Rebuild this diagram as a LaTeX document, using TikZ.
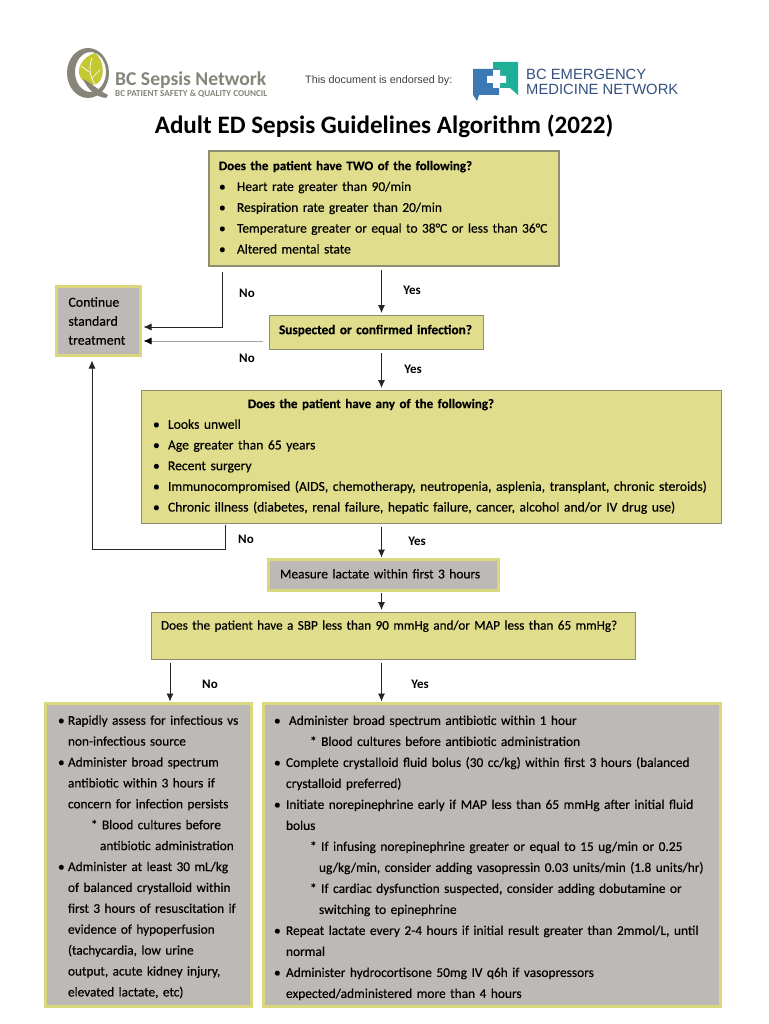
\documentclass[tikz,border=0pt]{standalone}
\usepackage{fontspec}
\setmainfont{Carlito}
\newfontfamily\headfont[FakeBold=0.3]{Carlito}
\newfontfamily\logofont{Liberation Sans}
\usetikzlibrary{arrows.meta}
\definecolor{boxyellow}{HTML}{E0DD8C}
\definecolor{boxgray}{HTML}{BDB9B6}
\definecolor{rimbrown}{HTML}{8F8D70}
\definecolor{rimyellow}{HTML}{DAD77C}
\definecolor{logogray}{HTML}{87857A}
\definecolor{logogreen}{HTML}{C4C832}
\definecolor{logoblue}{HTML}{3C78B4}
\definecolor{logoteal}{HTML}{1FAE96}
\definecolor{logonavy}{HTML}{34507F}
\newcommand{\bul}[1][18pt]{\makebox[#1][l]{\textbullet}}
\newcommand{\headline}[1]{{\bfseries\fontsize{13}{20.85}\selectfont #1}}
\newcommand{\pushup}{\rule[-2.5pt]{0pt}{5pt}}
\tikzset{
  flowbox/.style={draw=rimbrown,fill=boxyellow,line width=1.5pt,anchor=north west,outer sep=0pt,
    inner xsep=10pt,inner ysep=0pt,align=left,font=\headfont\fontsize{13.4}{20.85}\selectfont},
  stepbox/.style={flowbox,draw=rimyellow,fill=boxgray,line width=3pt},
  flowline/.style={draw=black!85,line width=.8pt,-{Latex[length=8pt,width=7pt]},shorten >=2pt,shorten <=4pt},
  answer/.style={font=\bfseries\fontsize{13}{15}\selectfont}
}
\begin{document}
\begin{tikzpicture}[x=1pt,y=-1pt]
  \useasboundingbox (0,0) rectangle (768,1024);
  \fill[white] (0,0) rectangle (768,1024);
% left logo
  \fill[logogray,even odd rule] (88,73) ellipse [x radius=21,y radius=25] (90.5,72) ellipse [x radius=15.5,y radius=20];
  \fill[logogreen] (95,53) .. controls (104,60) and (105,76) .. (99,82) .. controls (94,87) and (86,86) .. (81,78) .. controls (75,70) and (82,57) .. (95,53);
  \draw[white,line width=.7pt] (95,84) .. controls (89,76) and (89,66) .. (92,58) (89,72) -- (81,66) (92,78) -- (100,70);
  \fill[logogray] (83,79) .. controls (90,82) and (98,90) .. (108,95) -- (106,98) .. controls (96,97) and (88,90) .. (83,79);
  \node[anchor=base west,inner sep=0pt,text=logogray] (sepsis) at (115,86) {\bfseries\fontsize{19.6}{20}\selectfont BC Sepsis Network};
  \node[anchor=base west,inner sep=0pt,text=logogray] (council) at (115,97) {\bfseries\fontsize{9.1}{10}\selectfont BC PATIENT SAFETY \& QUALITY COUNCIL};
  \node[anchor=base west,inner sep=0pt,text=black!75] (endorsed) at (305,84) {\logofont\fontsize{10.8}{12}\selectfont This document is endorsed by:};
% right logo
  \fill[logoteal] (493,62) -- (518,62) -- (518,95) -- (510,88) -- (493,88) -- cycle;
  \fill[logoblue] (473,69) -- (499,69) -- (499,95) -- (479,95) -- (477,101) -- (473,95) -- cycle;
  \fill[white] (493,70) rectangle (500,88) (487,76) rectangle (506,83);
  \node[anchor=base west,inner sep=0pt,text=logonavy] (emergency) at (526,79.5) {\logofont\fontsize{14.8}{16}\selectfont BC EMERGENCY};
  \node[anchor=base west,inner sep=0pt,text=logonavy] (medicine) at (526,94.5) {\logofont\fontsize{14.8}{16}\selectfont MEDICINE NETWORK};
  \node[anchor=base,inner sep=0pt] (title) at (384,134) {\bfseries\fontsize{25.1}{28}\selectfont Adult ED Sepsis Guidelines Algorithm (2022)};
% the boxes
  \node[flowbox,text width=330pt,minimum width=350pt,minimum height=115pt] (twoq) at (209,151) {
    \headline{Does the patient have TWO of the following?}\\
    \bul Heart rate greater than 90/min\\
    \bul Respiration rate greater than 20/min\\
    \bul Temperature greater or equal to 38\textdegree C or less than 36\textdegree C\\
    \bul Altered mental state\pushup};
  \node[stepbox,text width=60pt,minimum width=84pt,minimum height=69pt,inner xsep=12pt,
    font=\headfont\fontsize{13.8}{19}\selectfont] (cont) at (56.5,286.5) {
    Continue\\ standard\\ treatment};
  \node[flowbox,line width=1pt,text width=194pt,minimum width=214pt,minimum height=34pt] (susp) at (269,315) {
    {\bfseries\fontsize{13.3}{20.85}\selectfont Suspected or confirmed infection?}\rule[-5pt]{0pt}{5pt}};
  \node[flowbox,line width=1pt,text width=560pt,minimum width=580pt,minimum height=133pt,
    font=\headfont\fontsize{13.6}{20.7}\selectfont] (anyq) at (141,390) {
    \hspace*{97pt}\headline{Does the patient have any of the following?}\\
    \hspace*{2pt}\bul[15pt]Looks unwell\\
    \hspace*{2pt}\bul[15pt]Age greater than 65 years\\
    \hspace*{2pt}\bul[15pt]Recent surgery\\
    \hspace*{2pt}\bul[15pt]Immunocompromised (AIDS, chemotherapy, neutropenia, asplenia, transplant, chronic steroids)\\
    \hspace*{2pt}\bul[15pt]Chronic illness (diabetes, renal failure, hepatic failure, cancer, alcohol and/or IV drug use)\pushup};
  \node[stepbox,text width=207pt,minimum width=230pt,minimum height=31pt,inner xsep=11.5pt] (lact) at (268.5,559.5) {
    Measure lactate within first 3 hours\pushup};
  \node[flowbox,line width=1pt,text width=464pt,minimum width=484pt,minimum height=47pt,
    font=\headfont\fontsize{13.2}{20.85}\selectfont] (sbpq) at (151,612) {
    Does the patient have a SBP less than 90 mmHg and/or MAP less than 65 mmHg?\\ ~};
  \node[stepbox,text width=190pt,minimum width=206pt,minimum height=303pt,inner xsep=8pt,
    font=\headfont\fontsize{13.3}{20.9}\selectfont] (noshock) at (45.5,703.5) {
    \rule{0pt}{13pt}\hspace*{4.5pt}\bul[10pt]Rapidly assess for infectious vs\\
    \hspace*{14.5pt}non-infectious source\\
    \hspace*{4.5pt}\bul[10pt]Administer broad spectrum\\
    \hspace*{14.5pt}antibiotic within 3 hours if\\
    \hspace*{14.5pt}concern for infection persists\\
    \hspace*{37.5pt}* Blood cultures before\\
    \hspace*{46.5pt}antibiotic administration\\
    \hspace*{4.5pt}\bul[10pt]Administer at least 30 mL/kg\\
    \hspace*{14.5pt}of balanced crystalloid within\\
    \hspace*{14.5pt}first 3 hours of resuscitation if\\
    \hspace*{14.5pt}evidence of hypoperfusion\\
    \hspace*{14.5pt}(tachycardia, low urine\\
    \hspace*{14.5pt}output, acute kidney injury,\\
    \hspace*{14.5pt}elevated lactate, etc)};
  \node[stepbox,text width=436pt,minimum width=457pt,minimum height=303pt,inner xsep=10.5pt,
    font=\headfont\fontsize{13.4}{21}\selectfont] (shock) at (263.5,703.5) {
    \rule{0pt}{15pt}\bul[15pt]Administer broad spectrum antibiotic within 1 hour\\
    \hspace*{36pt}* Blood cultures before antibiotic administration\\
    \bul[12pt]Complete crystalloid fluid bolus (30 cc/kg) within first 3 hours (balanced\\
    \hspace*{12pt}crystalloid preferred)\\
    \bul[12pt]Initiate norepinephrine early if MAP less than 65 mmHg after initial fluid\\
    \hspace*{12pt}bolus\\
    \hspace*{36pt}* If infusing norepinephrine greater or equal to 15 ug/min or 0.25\\
    \hspace*{45pt}ug/kg/min, consider adding vasopressin 0.03 units/min (1.8 units/hr)\\
    \hspace*{36pt}* If cardiac dysfunction suspected, consider adding dobutamine or\\
    \hspace*{45pt}switching to epinephrine\\
    \bul[12pt]Repeat lactate every 2-4 hours if initial result greater than 2mmol/L, until\\
    \hspace*{12pt}normal\\
    \bul[12pt]Administer hydrocortisone 50mg IV q6h if vasopressors\\
    \hspace*{12pt}expected/administered more than 4 hours};
% the connectors
  \coordinate (midx) at (381.5,0);
  \coordinate (notwo) at (222,327);
  \coordinate (noinf) at (145,341);
  \coordinate (noany) at (225,549);
  \coordinate (backx) at (92,0);
  \coordinate (nobp) at (170,0);
  \draw[flowline] (twoq.south -| midx) -- (susp.north -| midx);
  \draw[flowline] (susp.south -| midx) -- (anyq.north -| midx);
  \draw[flowline] (anyq.south -| midx) -- (lact.north -| midx);
  \draw[flowline,shorten <=2pt] (lact.south -| midx) -- (sbpq.north -| midx);
  \draw[flowline] (sbpq.south -| midx) -- (shock.north -| midx);
  \draw[flowline] (sbpq.south -| nobp) -- (noshock.north -| nobp);
  \draw[flowline,shorten <=6pt,shorten >=3pt] (twoq.south -| notwo) -- (notwo) -- (notwo -| cont.east);
  \draw[flowline,draw=black!35,shorten <=6pt,shorten >=3pt,-{Latex[length=8pt,width=7pt,black]}] (susp.west |- noinf) -- (cont.east |- noinf);
  \draw[flowline,shorten <=2pt,shorten >=5pt] (anyq.south -| noany) -- (noany) -- (noany -| backx) -- (cont.south -| backx);
% yes and no
  \node[answer] (yesone) at (412,290) {Yes};
  \node[answer] (noone) at (247,293) {No};
  \node[answer] (notwolab) at (247,358) {No};
  \node[answer] (yestwo) at (413,369) {Yes};
  \node[answer] (nothree) at (246,539) {No};
  \node[answer] (yesthree) at (417,541) {Yes};
  \node[answer] (nofour) at (210,684) {No};
  \node[answer] (yesfour) at (420,684) {Yes};
\end{tikzpicture}
\end{document}
